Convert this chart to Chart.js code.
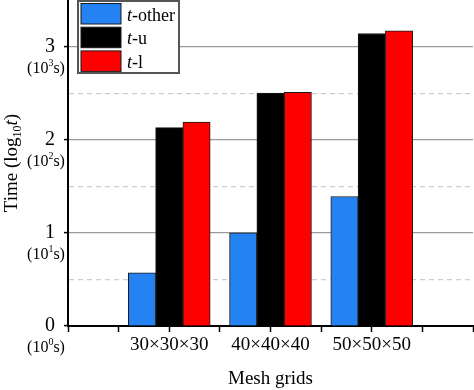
<!DOCTYPE html>
<html>
<head>
<meta charset="utf-8">
<script src="https://cdn.jsdelivr.net/npm/chart.js@4.4.0/dist/chart.umd.min.js"></script>
<style>
  html, body { margin: 0; padding: 0; background: #fff; }
</style>
</head>
<body>
<canvas id="timeChart" width="474" height="390"></canvas>
<script>
const categories = ['30×30×30', '40×40×40', '50×50×50'];
const categoryX = [1, 2, 3];
const tOther = [0.57, 1.00, 1.39];
const tU = [2.13, 2.50, 3.14];
const tL = [2.19, 2.51, 3.17];
const yTicks = [0, 1, 2, 3]; // log10 of seconds
const seriesNames = ['t-other', 't-u', 't-l'];
const seriesColors = ['#2582f3', '#000000', '#ff0000'];

const serif = "'Liberation Serif', 'Times New Roman', serif";

function toPoints(vals) {
    return vals.map((v, i) => ({ x: categoryX[i], y: v }));
}

// draw a row of text pieces with different fonts
function drawRuns(ctx, runs, x, y, align) {
    let total = 0;
    runs.forEach(r => {
        ctx.font = r.font;
        r.w = ctx.measureText(r.text).width;
        total += r.w;
    });
    let cx = align === 'center' ? x - total / 2 : x;
    runs.forEach(r => {
        ctx.font = r.font;
        ctx.fillText(r.text, cx, y + (r.dy || 0));
        cx += r.w;
    });
}

const extras = {
    id: 'extras',
    afterDraw(chart) {
        const ctx = chart.ctx;
        const yScale = chart.scales.y;
        ctx.save();
        ctx.fillStyle = '#000';
        ctx.textAlign = 'left';
        ctx.textBaseline = 'alphabetic';

        // (10^n s) under each tick number
        yTicks.forEach(v => {
            const py = yScale.getPixelForValue(v);
            drawRuns(ctx, [
                { text: '(10', font: `16px ${serif}` },
                { text: String(v), font: `10px ${serif}`, dy: -7 },
                { text: 's)', font: `16px ${serif}` }
            ], 46, py + 26, 'center');
        });

        // y axis title
        ctx.save();
        ctx.translate(16.5, 163);
        ctx.rotate(-Math.PI / 2);
        drawRuns(ctx, [
            { text: 'Time (log', font: `19px ${serif}` },
            { text: '10', font: `12px ${serif}`, dy: 4 },
            { text: 't', font: `italic 19px ${serif}` },
            { text: ')', font: `19px ${serif}` }
        ], 0, 0, 'center');
        ctx.restore();

        // legend box
        ctx.fillStyle = '#fff';
        ctx.fillRect(78, 1, 101, 72);
        ctx.strokeStyle = '#555';
        ctx.lineWidth = 2;
        ctx.strokeRect(78, 1, 101, 72);
        chart.data.datasets.forEach((ds, i) => {
            const top = 3.5 + i * 23.7;
            ctx.fillStyle = ds.backgroundColor;
            ctx.fillRect(81, top, 40, 20.5);
            ctx.strokeStyle = '#1a1a1a';
            ctx.lineWidth = 1;
            ctx.strokeRect(81, top, 40, 20.5);
            ctx.fillStyle = '#000';
            drawRuns(ctx, [
                { text: ds.label.slice(0, 1), font: `italic 18px ${serif}` },
                { text: ds.label.slice(1), font: `18px ${serif}` }
            ], 127, top + 10.25 + 7, 'left');
        });
        ctx.restore();
    }
};

const ctx = document.getElementById('timeChart').getContext('2d');

new Chart(ctx, {
    type: 'bar',
    data: {
        datasets: [tOther, tU, tL].map((vals, i) => ({
            label: seriesNames[i],
            data: toPoints(vals),
            backgroundColor: seriesColors[i],
            borderColor: '#1a1a1a',
            borderWidth: 1,
            barThickness: 27.3
        }))
    },
    options: {
        responsive: false,
        animation: false,
        layout: { padding: { top: 0, right: 1, bottom: 0, left: 0 } },
        plugins: {
            legend: { display: false },
            tooltip: { enabled: false }
        },
        scales: {
            x: {
                type: 'linear',
                min: 0,
                max: 4,
                offset: false,
                afterFit: s => { s.height = 64; s.paddingLeft = 0; s.paddingRight = 0; },
                ticks: {
                    stepSize: 0.5,
                    autoSkip: false,
                    maxRotation: 0,
                    padding: 2,
                    color: '#000',
                    font: { family: serif, size: 19 },
                    callback: v => {
                        const i = categoryX.indexOf(v);
                        return i >= 0 ? categories[i] : '';
                    }
                },
                grid: {
                    offset: false,
                    drawOnChartArea: false,
                    tickLength: 6,
                    tickColor: '#000',
                    tickWidth: 1.5
                },
                border: { color: '#000', width: 2 },
                title: {
                    display: true,
                    text: 'Mesh grids',
                    color: '#000',
                    font: { family: serif, size: 19 },
                    padding: 0
                }
            },
            y: {
                min: 0,
                max: 3.5,
                afterFit: s => { s.width = 68; s.paddingTop = 0; s.paddingBottom = 0; },
                ticks: {
                    stepSize: 0.5,
                    autoSkip: false,
                    padding: 9,
                    color: '#000',
                    font: { family: serif, size: 20 },
                    callback: v => Number.isInteger(v) ? String(v) : ''
                },
                grid: {
                    color: c => {
                        const v = c.tick ? c.tick.value : 0;
                        if (v === 0 || v === 3.5) return 'rgba(0,0,0,0)';
                        return Number.isInteger(v) ? '#9a9a9a' : '#cdcdcd';
                    },
                    lineWidth: 1.2,
                    tickLength: 4,
                    tickWidth: 1.5,
                    tickColor: c => (c.tick && Number.isInteger(c.tick.value)) ? '#000' : 'rgba(0,0,0,0)'
                },
                border: {
                    color: '#000',
                    width: 2,
                    dash: c => (c.tick && !Number.isInteger(c.tick.value)) ? [5, 4] : []
                }
            }
        }
    },
    plugins: [extras]
});
</script>
</body>
</html>
